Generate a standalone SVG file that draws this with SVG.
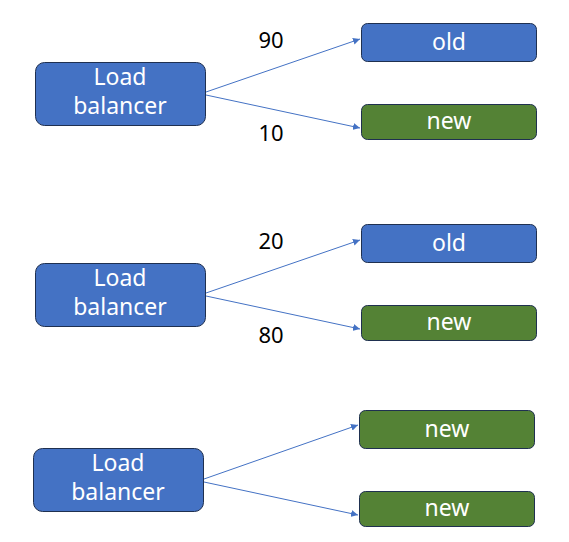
<svg xmlns="http://www.w3.org/2000/svg" width="569" height="542" viewBox="0 0 569 542">
<defs>
<marker id="ah" viewBox="0 0 10 10" refX="10" refY="5" markerWidth="7" markerHeight="7" orient="auto" markerUnits="userSpaceOnUse">
<path d="M0,0 L10,5 L0,10 z" fill="#4472C4"/>
</marker>
<style>
.blue{fill:#4472C4;stroke:#1F3050;stroke-width:1}
.green{fill:#548235;stroke:#1F3050;stroke-width:1}
.t{font-family:"Noto Sans","Open Sans",sans-serif;font-size:23px;fill:#ffffff;text-anchor:middle}
.n{font-family:"Noto Sans","Open Sans",sans-serif;font-size:22px;fill:#000000;text-anchor:middle}
.c{stroke:#4472C4;stroke-width:1;fill:none;marker-end:url(#ah)}
</style>
</defs>
<rect width="569" height="542" fill="#ffffff"/>
<g id="connectors">
<line class="c" x1="206" y1="92" x2="360" y2="39"/>
<line class="c" x1="206" y1="95" x2="360" y2="128"/>
<line class="c" x1="206" y1="293" x2="360" y2="240"/>
<line class="c" x1="206" y1="296" x2="360" y2="329"/>
<line class="c" x1="204" y1="479" x2="358" y2="425"/>
<line class="c" x1="204" y1="482" x2="358" y2="515"/>
</g>
<g id="labels">
<text class="n" x="271" y="48">90</text>
<text class="n" x="271" y="141">10</text>
<text class="n" x="271" y="249">20</text>
<text class="n" x="271" y="343">80</text>
</g>
<g id="lb1"><rect class="blue" x="35.5" y="62.5" width="170" height="63" rx="9"/><text class="t" x="120" y="85">Load</text><text class="t" x="120" y="114">balancer</text></g>
<g id="old1"><rect class="blue" x="361.5" y="23.5" width="175" height="38" rx="6"/><text class="t" x="449" y="50">old</text></g>
<g id="new1"><rect class="green" x="361.5" y="104.5" width="175" height="35" rx="6"/><text class="t" x="449" y="129">new</text></g>
<g id="lb2"><rect class="blue" x="35.5" y="263.5" width="170" height="63" rx="9"/><text class="t" x="120" y="286">Load</text><text class="t" x="120" y="315">balancer</text></g>
<g id="old2"><rect class="blue" x="361.5" y="224.5" width="175" height="38" rx="6"/><text class="t" x="449" y="251">old</text></g>
<g id="new2"><rect class="green" x="361.5" y="305.5" width="175" height="35" rx="6"/><text class="t" x="449" y="330">new</text></g>
<g id="lb3"><rect class="blue" x="33.5" y="448.5" width="170" height="63" rx="9"/><text class="t" x="118" y="471">Load</text><text class="t" x="118" y="500">balancer</text></g>
<g id="new3"><rect class="green" x="359.5" y="410.5" width="175" height="38" rx="6"/><text class="t" x="447" y="437">new</text></g>
<g id="new4"><rect class="green" x="359.5" y="491.5" width="175" height="35" rx="6"/><text class="t" x="447" y="516">new</text></g>
</svg>
